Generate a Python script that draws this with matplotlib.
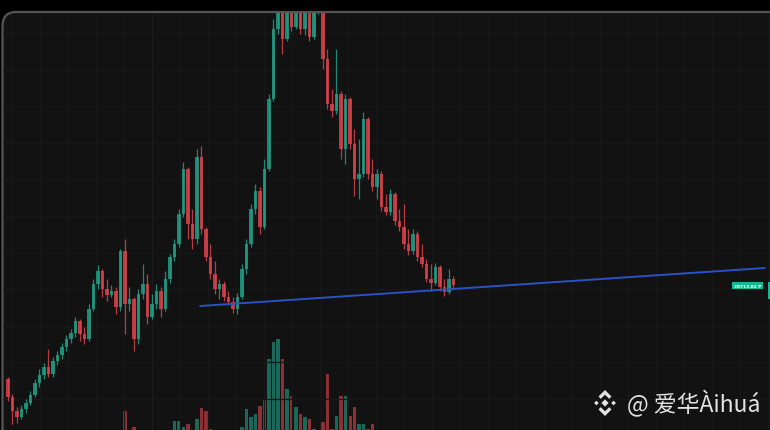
import numpy as np
import matplotlib
matplotlib.use("Agg")
import matplotlib.pyplot as plt
from matplotlib.patches import FancyBboxPatch, Polygon, Rectangle

# ---------------- data (arbitrary price units) -------------
opens = [120, 102, 88, 82, 90, 96, 104, 116, 124, 132, 125, 138, 144, 152, 160, 166, 178, 165, 160, 190,
         215, 228, 210, 204, 208, 192, 248, 195, 200, 160, 205, 215, 182, 195, 208, 190, 220, 242, 255, 285,
         330, 275, 260, 342, 270, 242, 225, 210, 215, 202, 197, 190, 202, 230, 255, 290, 308, 272, 330, 400,
         470, 520, 460, 495, 472, 505, 470, 490, 462, 492, 505, 440, 395, 388, 405, 350, 400, 355, 320, 325,
         380, 325, 312, 325, 292, 287, 305, 278, 272, 255, 248, 265, 242, 235, 220, 216, 232, 212, 207, 220]
highs = [122, 105, 92, 94, 100, 108, 120, 130, 136, 150, 142, 148, 156, 164, 170, 182, 180, 172, 195, 220,
         234, 230, 220, 214, 212, 250, 260, 212, 202, 210, 235, 225, 205, 215, 212, 228, 245, 260, 290, 337,
         332, 290, 350, 353, 272, 255, 238, 220, 218, 208, 202, 206, 235, 260, 295, 315, 312, 340, 405, 480,
         540, 540, 520, 515, 525, 520, 510, 505, 510, 520, 515, 450, 410, 450, 408, 405, 402, 370, 360, 387,
         382, 340, 330, 328, 305, 310, 307, 290, 295, 270, 270, 268, 255, 240, 235, 236, 234, 220, 230, 223]
lows = [98, 75, 76, 80, 86, 94, 102, 112, 120, 122, 122, 134, 140, 148, 156, 162, 158, 155, 158, 188,
        210, 202, 198, 202, 185, 188, 165, 188, 148, 155, 200, 175, 180, 190, 182, 188, 216, 238, 252, 282,
        260, 250, 255, 265, 238, 220, 205, 200, 198, 194, 186, 185, 200, 225, 252, 285, 265, 270, 328, 398,
        465, 445, 458, 468, 470, 465, 464, 458, 460, 485, 430, 390, 382, 385, 340, 335, 350, 303, 300, 322,
        320, 308, 300, 288, 284, 284, 274, 268, 250, 244, 245, 238, 232, 217, 208, 214, 208, 203, 205, 211]
closes = [102, 88, 82, 90, 96, 104, 116, 124, 132, 125, 138, 144, 152, 160, 166, 178, 165, 160, 190, 215,
          228, 210, 204, 208, 192, 248, 195, 200, 160, 205, 215, 182, 195, 208, 190, 220, 242, 255, 285, 330,
          275, 260, 342, 270, 242, 225, 210, 215, 202, 197, 190, 202, 230, 255, 290, 308, 272, 330, 400, 470,
          520, 460, 495, 472, 505, 470, 490, 462, 492, 505, 440, 395, 388, 405, 350, 400, 355, 320, 325, 380,
          325, 312, 325, 292, 287, 305, 278, 272, 255, 248, 265, 242, 235, 220, 216, 232, 212, 207, 220, 214]
volumes = [4, 6, 5, 3, 5, 4, 6, 5, 4, 7, 5, 4, 6, 5, 4, 6, 7, 5, 6, 8,
           7, 5, 6, 4, 5, 6, 28, 8, 12, 7, 6, 9, 5, 6, 8, 5, 7, 18, 18, 12,
           15, 8, 20, 31, 28, 10, 8, 6, 7, 5, 6, 8, 12, 30, 22, 25, 33, 40, 80, 97,
           100, 80, 50, 43, 32, 25, 22, 20, 10, 8, 17, 65, 10, 23, 43, 43, 23, 32, 15, 15,
           10, 15, 8, 6, 7, 5, 6, 5, 4, 6, 5, 4, 5, 6, 4, 5, 4, 5, 3, 4]

trend_x = [42.7, 168.2]      # candle index of the support line ends
trend_p = [193, 231]         # price at the ends
last_price_label = "28713,82 P"
watermark = "@ 爱华Àihuá"

# ---------------- style ----------------
UP = "#1f9e86"
DOWN = "#d8434c"
PANEL = "#121212"
GRID = "#181818"

W, H = 770, 431
fig = plt.figure(figsize=(W / 100, H / 100), dpi=100, facecolor="black")

# background panel with rounded border
bg = fig.add_axes([0, 0, 1, 1], zorder=-2)
bg.set_xlim(0, W)
bg.set_ylim(H, 0)
bg.axis("off")
bg.set_facecolor("black")
bg.add_patch(FancyBboxPatch((2.5, 13), 830, 500, boxstyle="round,pad=0,rounding_size=14",
                            fc=PANEL, ec="#555555", lw=1.6))

pos = [3 / W, 0, 767 / W, 417 / H]
ax = fig.add_axes(pos, zorder=1)
ax.set_facecolor("none")
n = len(closes)
idx = np.arange(n)
x0 = (3 - 8) / 4.5
x1 = (770 - 8) / 4.5
ax.set_xlim(x0, x1)
ax.set_ylim(69, 486)

# faint grid
for k, gx in enumerate(np.arange(32 - 6.22 * 5, x1, 6.22)):
    ax.axvline(gx, color="#1d1d1d" if k == 5 else GRID, lw=0.9, zorder=0)
for gy in np.arange(466, 60, -36.6):
    ax.axhline(gy, color=GRID, lw=0.9, zorder=0)

# volume axes (shares position)
vax = fig.add_axes(pos, zorder=0.5)
vax.set_facecolor("none")
vax.set_xlim(x0, x1)
vax.set_ylim(9, 426)
vcols = [UP if c >= o else DOWN for o, c in zip(opens, closes)]
vax.bar(idx, volumes, width=0.75, color=vcols, alpha=0.62, linewidth=0)
vax.axis("off")

# candles
for i in range(n):
    o, h, l, c = opens[i], highs[i], lows[i], closes[i]
    col = UP if c >= o else DOWN
    ax.vlines(i, l, h, color=col, lw=0.9, alpha=0.85)
    lo, hi = min(o, c), max(o, c)
    ax.add_patch(Rectangle((i - 0.35, lo), 0.7, max(hi - lo, 0.8), fc=col, ec="none", alpha=0.85))

# support line
ax.plot(trend_x, trend_p, color="#2b52c4", lw=1.4, solid_capstyle="round")

# current price label
ax.text(164.4, 213.5, last_price_label, fontsize=3.2, color="#e8fff8", ha="center", va="center",
        fontweight="bold",
        bbox=dict(boxstyle="square,pad=0.4", fc="#14b894", ec="none"))
ax.add_patch(Rectangle((168.8, 200), 1.5, 17, fc="#14b894", ec="none", clip_on=True))

ax.axis("off")

# watermark
fig.text(627 / W, 1 - 404 / H, watermark, color="#e2e2e2", fontsize=16.5, ha="left", va="center",
         family=["Noto Sans CJK SC", "DejaVu Sans"])

# binance-like logo
lg = fig.add_axes([592 / W, 1 - 417 / H, 26 / W, 26 / H], zorder=3)
lg.set_xlim(-1, 1)
lg.set_ylim(-1, 1)
lg.axis("off")
lc = "#e2e2e2"
lg.add_patch(Polygon([(0, 0.28), (0.28, 0), (0, -0.28), (-0.28, 0)], fc=lc, ec="none"))
for s in (-1, 1):
    cx = 0.66 * s
    lg.add_patch(Polygon([(cx, 0.18), (cx + 0.18, 0), (cx, -0.18), (cx - 0.18, 0)], fc=lc, ec="none"))
    lg.add_patch(Polygon([(-0.5, 0.5 * s), (0, 1.0 * s), (0.5, 0.5 * s), (0.32, 0.32 * s),
                          (0, 0.64 * s), (-0.32, 0.32 * s)], fc=lc, ec="none"))

fig.savefig("out.png", dpi=100, facecolor="black")
